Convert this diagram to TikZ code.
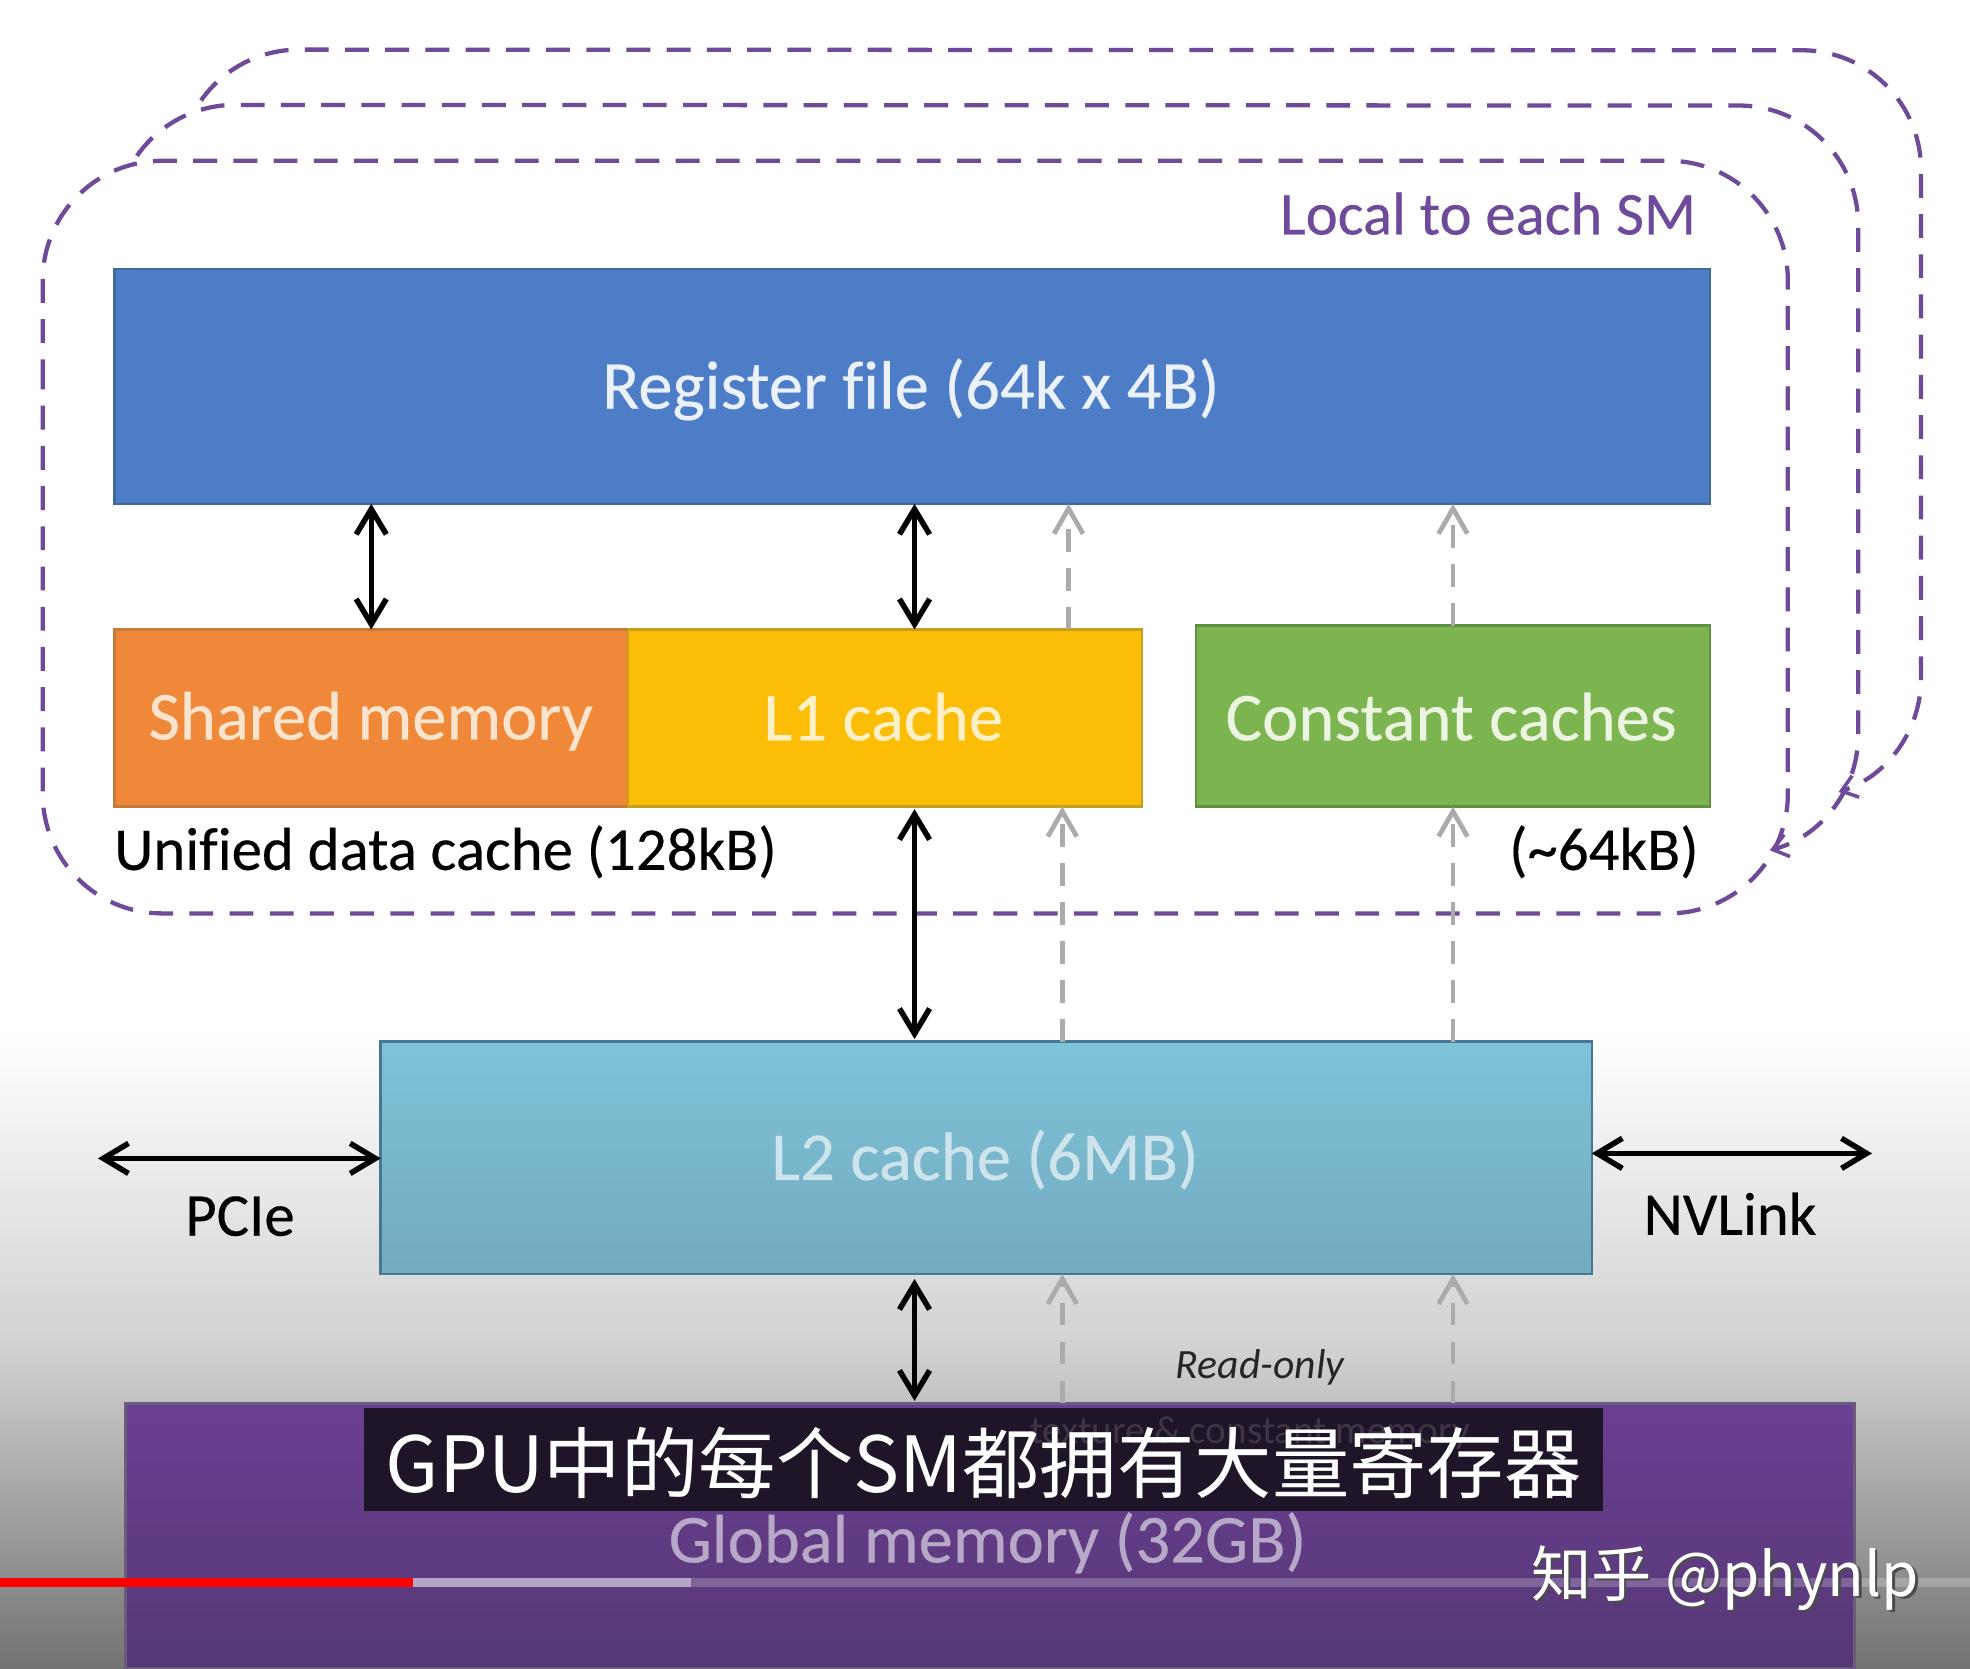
\documentclass[tikz,border=0pt]{standalone}
\usepackage{fontspec}
\setmainfont[Ligatures=NoCommon]{Carlito}
\newfontfamily\heavy[Ligatures=NoCommon,FakeBold=0.3]{Carlito}
\newfontfamily\cjkfont{Noto Sans CJK SC}
\usetikzlibrary{arrows.meta,calc}
\definecolor{dashpurple}{HTML}{6F4A9B}
\definecolor{fadegray}{HTML}{ABABAB}
\definecolor{regfill}{HTML}{4E7DC8}
\definecolor{regline}{HTML}{3F689F}
\definecolor{regtext}{HTML}{EBF1FA}
\definecolor{shfill}{HTML}{F0883A}
\definecolor{shline}{HTML}{C87838}
\definecolor{shtext}{HTML}{FAE4CD}
\definecolor{lfill}{HTML}{FBBD05}
\definecolor{lline}{HTML}{C89E20}
\definecolor{ltext}{HTML}{FDF0C8}
\definecolor{cfill}{HTML}{7CB450}
\definecolor{cline}{HTML}{5F9141}
\definecolor{ctext}{HTML}{EBF5E1}
\definecolor{ltwotop}{HTML}{7EC3D8}
\definecolor{ltwobot}{HTML}{73AAC0}
\definecolor{ltwoline}{HTML}{467896}
\definecolor{ltwotext}{HTML}{CDE4EC}
\definecolor{gtop}{HTML}{6B3F93}
\definecolor{gbot}{HTML}{563875}
\definecolor{gline}{HTML}{6A5C7C}
\definecolor{gtext}{HTML}{B8A8C8}
\definecolor{subfill}{HTML}{1E1528}
\definecolor{subghost}{HTML}{3E3646}
\tikzset{
  every node/.style={inner sep=0pt,outer sep=0pt},
  box/.style={draw=#1,line width=1pt,anchor=center},
  local/.style={draw=dashpurple,line width=1.7pt,dash pattern=on 9.5pt off 6.5pt},
  localarrow/.style={local,-{Straight Barb[length=6pt,width=9pt,line width=1.4pt]}},
  bus/.style={draw=black,line width=2pt,{Straight Barb[length=10pt,width=12pt,line width=2.2pt]}-{Straight Barb[length=10pt,width=12pt,line width=2.2pt]}},
  ro/.style={draw=fadegray,line width=1.9pt,dash pattern=on 9pt off 6.5pt,-{Straight Barb[length=10pt,width=11.5pt,line width=1.9pt]}},
  title/.style={font=\heavy\fontsize{27.3}{27.3}\selectfont,text=#1},
  label/.style={font=\heavy\fontsize{24.2}{24.2}\selectfont,text=black},
}
\begin{document}
\begin{tikzpicture}[x=0.5pt,y=-0.5pt]
\useasboundingbox (0,0) rectangle (1568,1328);
\fill[white] (0,0) rectangle (1568,1328);
\shade[top color=white,bottom color=black!55,middle color=black!18] (0,820) rectangle (1568,1328);

% outer dashed frames
\draw[localarrow] (160,80) arc[start angle=-145,end angle=-90,radius=95] -- (1434,40) arc[start angle=-90,end angle=0,radius=95] -- (1529,540) arc[start angle=0,end angle=72,radius=95];
\draw[localarrow] (109,124) arc[start angle=-145,end angle=-90,radius=95] -- (1384,84) arc[start angle=-90,end angle=0,radius=95] -- (1479,585) arc[start angle=0,end angle=75,radius=95];
\draw[local,rounded corners=47.5pt] (34,400) -- (34,128) -- (1423,128) -- (1423,727) -- (34,727) -- cycle;

% boxes
\node[box=regline,fill=regfill,minimum width=635pt,minimum height=93.5pt] (reg) at (726,307.5) {};
\node[title=regtext] (regt) at (725,310) {Register file (64k x 4B)};
\node[box=shline,fill=shfill,minimum width=204.5pt,minimum height=70.5pt] (shared) at (295.5,571.5) {};
\node[title=shtext] (sharedt) at (295,574) {Shared memory};
\node[box=lline,fill=lfill,minimum width=204.5pt,minimum height=70.5pt] (l1) at (704.5,571.5) {};
\node[title=ltext] (l1t) at (703,570.5) {L1 cache};
\node[box=cline,fill=cfill,minimum width=204.5pt,minimum height=72pt] (const) at (1156.5,570) {};
\node[title=ctext] (constt) at (1155,570.5) {Constant caches};
\node[box=ltwoline,top color=ltwotop,bottom color=ltwobot,minimum width=482pt,minimum height=92.5pt] (l2) at (785,921.5) {};
\node[title=ltwotext] (l2t) at (784,923) {L2 cache (6MB)};
\node[box=gline,top color=gtop,bottom color=gbot,minimum width=688pt,minimum height=105.5pt] (global) at (788,1222.5) {};
\node[title=gtext] (globalt) at (786,1228) {Global memory (32GB)};

% labels
\node[font=\heavy\fontsize{24.2}{24.2}\selectfont,text=dashpurple,anchor=east] (smt) at (1350,170) {Local to each SM};
\node[label,anchor=west] (unif) at (91,678) {Unified data cache (128kB)};
\node[label,anchor=east] (kb) at (1352,678) {(\textasciitilde 64kB)};
\node[label] (pcie) at (191,968) {PCIe};
\node[label] (nv) at (1377,966) {NVLink};
\node[font=\fontsize{16.6}{16.6}\selectfont\itshape,text=black!85] (rot) at (1003,1088) {Read-only};

% connectors
\coordinate (pl) at (78,922);
\coordinate (nr) at (1490,918);
\draw[bus] (shared.north) -- (shared.north |- reg.south);
\draw[bus] ([xshift=11.7pt]l1.north) -- ([xshift=11.7pt]l1.north |- reg.south);
\draw[bus,shorten <=1pt,shorten >=1pt] ([xshift=11.7pt]l1.south) -- ([xshift=11.7pt]l1.south |- l2.north);
\draw[bus,shorten <=2pt,shorten >=1pt] ([xshift=11.7pt]l1.south |- l2.south) -- ([xshift=11.7pt]l1.south |- global.north);
\draw[bus] (l2.west |- pl) -- (pl);
\draw[bus] (l2.east |- nr) -- (nr);
\draw[ro] ([xshift=73pt]l1.north) -- ([xshift=73pt]l1.north |- reg.south);
\draw[ro] (const.north) -- (const.north |- reg.south);
\draw[ro] ([xshift=70.5pt]l1.south |- l2.north) -- ([xshift=70.5pt]l1.south);
\draw[ro] (const.south |- l2.north) -- (const.south);
\draw[ro] ([xshift=70.5pt]l1.south |- global.north) -- ([xshift=70.5pt]l1.south |- l2.south);
\draw[ro] (const.south |- global.north) -- (const.south |- l2.south);

% video overlay
\fill[red] (0,1256) rectangle (329,1263);
\fill[white,opacity=.55] (329,1256) rectangle (550,1263);
\fill[white,opacity=.22] (550,1256) rectangle (1568,1263);
\node[fill=subfill,minimum width=493pt,minimum height=41pt] (sub) at (783,1161.5) {};
\node[font=\fontsize{15.6}{15.6}\selectfont,text=subghost] (ghost) at (995,1141) {texture \& constant memory};
\node[font=\cjkfont\fontsize{30.8}{30.8}\selectfont,text=white] (subt) at (783,1164) {GPU中的每个SM都拥有大量寄存器};
\node[font=\cjkfont\fontsize{24}{24}\selectfont,text=black!70] at (1375,1258) {知乎 @phynlp};
\node[font=\cjkfont\fontsize{24}{24}\selectfont,text=white] (wm) at (1373,1256) {知乎 @phynlp};
\end{tikzpicture}
\end{document}
